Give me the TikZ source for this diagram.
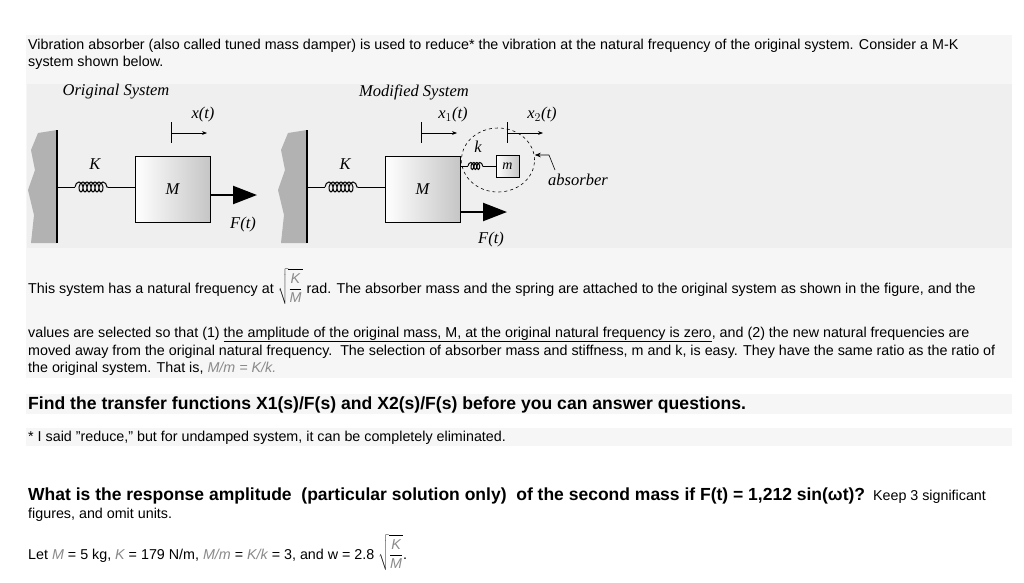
\documentclass[tikz,border=0pt]{standalone}
\usepackage{fontspec}
\setmainfont{Liberation Sans}
\newfontfamily\tms{Liberation Serif}
\usetikzlibrary{decorations.pathmorphing,arrows.meta,shapes.geometric}
\definecolor{gtx}{HTML}{8A8A8A}
\definecolor{bandA}{HTML}{F6F6F6}
\definecolor{bandB}{HTML}{EFEFEF}
\newcommand{\gi}[1]{{\color{gtx}\itshape #1}}
\newcommand{\sqKM}{$\displaystyle\sqrt{\frac{\hbox{\gi{K}}}{\hbox{\gi{M}}}}$}
\begin{document}
\begin{tikzpicture}[x=1pt,y=-1pt,
  txt/.style={anchor=base west,inner sep=0pt,font=\fontsize{14.3}{16}\selectfont},
  lab/.style={inner sep=0pt,font=\tms\itshape\fontsize{16.5}{18}\selectfont},
  massbox/.style={draw,line width=0.8pt,left color=white,right color=gray!45},
  coilsp/.style={decorate,decoration={coil,aspect=0.6,amplitude=5pt,segment length=4pt,pre length=0pt,post length=0pt},line width=1pt},
  wallfill/.style={fill=gray!60,draw=none},
  bigarrow/.style={line width=2.2pt,-{Triangle[length=24pt,width=18pt]}},
  disp/.style={-{Stealth[length=5pt]},line width=0.6pt}]
\useasboundingbox (0,0) rectangle (1024,582);
\fill[white] (0,0) rectangle (1024,582);
\fill[bandA] (26,35) rectangle (1012,378);
\fill[bandB] (27,84) rectangle (1012,248);
\fill[bandA] (26,394) rectangle (1012,414);
\fill[bandA] (26,428) rectangle (1012,446);

\node[txt] (t1) at (28,49) {Vibration absorber (also called tuned mass damper) is used to reduce* the vibration at the natural frequency of the original system. Consider a M-K};
\node[txt] (t2) at (28,66) {system shown below.};

% Original system
\node[lab] (ol) at (116,92) {Original System};
\fill[wallfill] (57,130) -- (38,133) -- (31,150) -- (35,170) -- (28,190) -- (34,215) -- (31,243) -- (57,243) -- cycle;
\draw[line width=1.2pt] (57,130) -- (57,243);
\node[massbox,minimum width=75pt,minimum height=66pt] (M1) at (172.5,189) {};
\node[lab] at (M1) {M};
\draw[line width=1pt] (57,187) -- (75,187);
\draw[coilsp] (75,187) -- (108,187);
\draw[line width=1pt] (108,187) -- (M1.west |- 0,187);
\draw[bigarrow] (M1.east |- 0,195) -- (257,195);
\node[lab] (F1) at (243,225) {F(t)};
\draw[line width=0.6pt] (171,122) -- (171,143);
\draw[disp] (171,133) -- (207,133);
\node[lab] (xl) at (203,115) {x(t)};
\node[lab] (K1) at (95,164) {K};

% Modified system
\node[lab] (ml) at (414,92) {Modified System};
\fill[wallfill] (307,130) -- (288,133) -- (281,150) -- (285,170) -- (278,190) -- (284,215) -- (281,243) -- (307,243) -- cycle;
\draw[line width=1.2pt] (307,130) -- (307,243);
\node[massbox,minimum width=75pt,minimum height=66pt] (M2) at (422.5,189) {};
\node[lab] at (M2) {M};
\draw[line width=1pt] (307,187) -- (325,187);
\draw[coilsp] (325,187) -- (358,187);
\draw[line width=1pt] (358,187) -- (M2.west |- 0,187);
\node[lab] (K2) at (345,164) {K};
\draw[bigarrow] (M2.east |- 0,212) -- (507,212);
\node[lab] (F2) at (491,240) {F(t)};
\draw[line width=0.6pt] (421,122) -- (421,143);
\draw[disp] (421,133) -- (457,133);
\node[lab] (x1) at (453,115) {x$_1$(t)};
\node[massbox,minimum width=23pt,minimum height=22pt,line width=0.6pt] (m) at (507.5,166) {};
\node[lab,font=\tms\itshape\fontsize{14}{16}\selectfont] at (m) {m};
\draw[line width=1pt] (M2.east |- 0,166) -- (468,166);
\draw[coilsp,decoration={coil,aspect=0.6,amplitude=3.5pt,segment length=3pt}] (468,166) -- (483,166);
\draw[line width=1pt] (483,166) -- (m.west |- 0,166);
\node[lab] (k) at (478,147) {k};
\node[draw,dashed,ellipse,minimum width=73pt,minimum height=64pt,line width=0.6pt] (circ) at (498,160) {};
\draw[line width=0.6pt] (507,122) -- (507,143);
\draw[disp] (507,133) -- (543,133);
\node[lab] (x2) at (542,115) {x$_2$(t)};
\node[lab] (abs) at (578,180) {absorber};
\draw[-{Stealth[length=6pt]},line width=0.6pt] (555,170) -- (549,155) -- (circ.east |- 0,155);

% text
\node[txt] (t3) at (28,293) {This system has a natural frequency at \sqKM\ rad. The absorber mass and the spring are attached to the original system as shown in the figure, and the};
\node[txt] (t4) at (28,337) {values are selected so that (1) \underline{the amplitude of the original mass, M, at the original natural frequency is zero}, and (2) the new natural frequencies are};
\node[txt] (t5) at (28,355) {moved away from the original natural frequency.\ \ The selection of absorber mass and stiffness, m and k, is easy. They have the same ratio as the ratio of};
\node[txt] (t6) at (28,372) {the original system. That is, \gi{M/m = K/k.}};
\node[txt,font=\bfseries\fontsize{17.6}{19}\selectfont] (t7) at (28,409) {Find the transfer functions X1(s)/F(s) and X2(s)/F(s) before you can answer questions.};
\node[txt,font=\fontsize{14.3}{16}\selectfont] (t8) at (28,441) {* I said "reduce," but for undamped system, it can be completely eliminated.};
\node[txt] (t9) at (28,500) {{\bfseries\fontsize{17.5}{19}\selectfont What is the response amplitude\ \ (particular solution only)\ \ of the second mass if F(t) = 1,212 sin(ωt)?}\ \ Keep 3 significant};
\node[txt] (t10) at (28,518) {figures, and omit units.};
\node[txt] (t11) at (28,559) {Let \gi{M} = 5 kg, \gi{K} = 179 N/m, \gi{M/m} = \gi{K/k} = 3, and w = 2.8 \sqKM.};
\end{tikzpicture}
\end{document}
